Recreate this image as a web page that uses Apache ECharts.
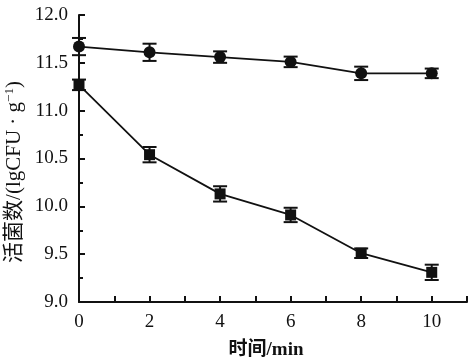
<!DOCTYPE html>
<html>
<head>
<meta charset="utf-8">
<script src="https://cdn.jsdelivr.net/npm/echarts@6/dist/echarts.min.js"></script>
<style>
  html, body { margin: 0; padding: 0; background: #fff; }
  #chart { width: 474px; height: 364px; }
</style>
</head>
<body>
<div id="chart"></div>
<script>
// données
const times = [0, 2, 4, 6, 8, 10];
const circleVals = [11.67, 11.61, 11.56, 11.51, 11.39, 11.39];
const circleErr = [0.09, 0.09, 0.06, 0.055, 0.07, 0.05];
const squareVals = [11.27, 10.54, 10.13, 9.91, 9.51, 9.31];
const squareErr = [0.055, 0.08, 0.08, 0.075, 0.05, 0.08];
const yTicks = [9.0, 9.5, 10.0, 10.5, 11.0, 11.5, 12.0];

const FONT = '"Liberation Serif", "Noto Sans CJK SC", serif';

const chart = echarts.init(document.getElementById('chart'), null, { renderer: 'canvas' });

function pairs(vals) {
  return times.map((t, i) => [t, vals[i]]);
}
function errData(vals, errs) {
  return times.map((t, i) => [t, vals[i] - errs[i], vals[i] + errs[i]]);
}

// barres d'erreur dessinées via les coordonnées de l'axe
function renderErr(params, api) {
  const x = api.value(0);
  const lo = api.coord([x, api.value(1)]);
  const hi = api.coord([x, api.value(2)]);
  const w = 7;
  const st = { stroke: '#111', lineWidth: 2 };
  return {
    type: 'group',
    children: [
      { type: 'line', shape: { x1: lo[0], y1: lo[1], x2: hi[0], y2: hi[1] }, style: st },
      { type: 'line', shape: { x1: lo[0] - w, y1: lo[1], x2: lo[0] + w, y2: lo[1] }, style: st },
      { type: 'line', shape: { x1: hi[0] - w, y1: hi[1], x2: hi[0] + w, y2: hi[1] }, style: st }
    ]
  };
}

const option = {
  animation: false,
  grid: { left: 79, right: 7, top: 15, bottom: 62 },
  xAxis: {
    type: 'value',
    min: 0,
    max: 11,
    interval: 1,
    axisLine: { show: true, lineStyle: { color: '#111', width: 2 } },
    axisTick: { show: true, inside: true, length: 6, lineStyle: { color: '#111', width: 2 } },
    splitLine: { show: false },
    axisLabel: {
      fontFamily: FONT, fontSize: 19, color: '#111', margin: 11,
      formatter: v => (v % 2 === 0 && v <= 10 ? String(v) : '')
    }
  },
  yAxis: {
    type: 'value',
    min: 9,
    max: 12,
    interval: 0.5,
    axisLine: { show: true, lineStyle: { color: '#111', width: 2 } },
    axisTick: { show: true, inside: true, length: 6, lineStyle: { color: '#111', width: 2 } },
    minorTick: { show: true, splitNumber: 2, length: 4, lineStyle: { color: '#111', width: 2 } },
    splitLine: { show: false },
    axisLabel: {
      fontFamily: FONT, fontSize: 19, color: '#111', margin: 11,
      formatter: v => (yTicks.includes(v) ? v.toFixed(1) : '')
    }
  },
  graphic: [
    {
      type: 'text',
      x: 14, y: 172,
      rotation: Math.PI / 2,
      style: {
        text: '{t|活菌数/(lgCFU · g}{s|−1}{t|)}',
        align: 'center',
        verticalAlign: 'middle',
        fill: '#111',
        rich: {
          t: { fontFamily: FONT, fontSize: 21, fill: '#111' },
          s: { fontFamily: FONT, fontSize: 13, fill: '#111', verticalAlign: 'top' }
        }
      }
    },
    {
      type: 'text',
      x: 266, y: 350,
      style: {
        text: '时间/min',
        align: 'center',
        verticalAlign: 'middle',
        fontFamily: FONT,
        fontSize: 19,
        fontWeight: 'bold',
        fill: '#111'
      }
    }
  ],
  series: [
    {
      type: 'custom',
      renderItem: renderErr,
      data: errData(circleVals, circleErr),
      z: 1
    },
    {
      type: 'custom',
      renderItem: renderErr,
      data: errData(squareVals, squareErr),
      z: 1
    },
    {
      type: 'line',
      data: pairs(circleVals),
      symbol: 'circle',
      symbolSize: 12,
      itemStyle: { color: '#111' },
      lineStyle: { color: '#111', width: 1.8 },
      z: 2
    },
    {
      type: 'line',
      data: pairs(squareVals),
      symbol: 'rect',
      symbolSize: 11,
      itemStyle: { color: '#111' },
      lineStyle: { color: '#111', width: 1.8 },
      z: 2
    }
  ]
};

chart.setOption(option);
window.addEventListener('resize', chart.resize);
</script>
</body>
</html>
